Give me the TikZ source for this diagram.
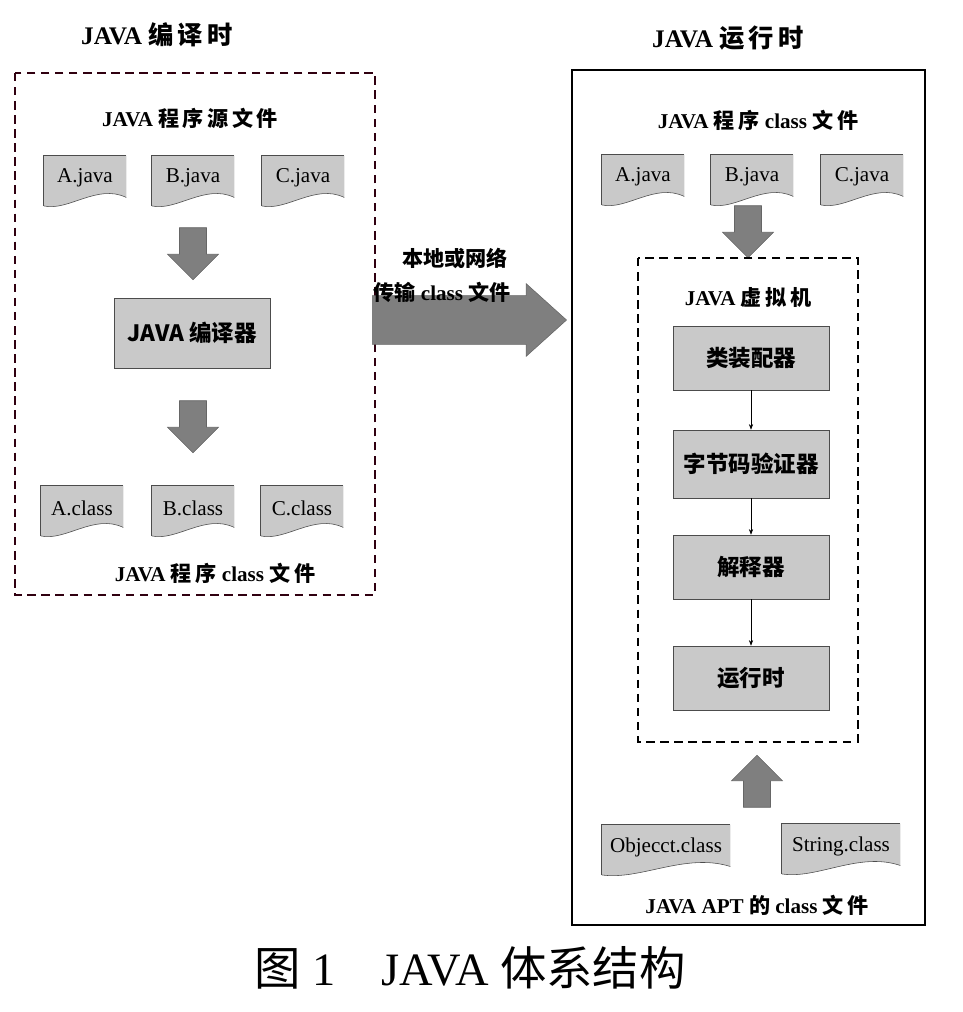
\documentclass[tikz,border=0pt]{standalone}
\usepackage{fontspec}
\setmainfont{Liberation Serif}
\newfontfamily\cjk{Noto Sans CJK SC}
\usetikzlibrary{shapes.arrows,arrows.meta,backgrounds,calc,positioning}

\definecolor{boxgray}{HTML}{C9C9C9}
\definecolor{arrgray}{HTML}{7F7F7F}

\tikzset{
  doc/.style={minimum height=1.1cm, inner sep=0pt, font=\fontsize{15}{15}\selectfont},
  stage/.style={draw=black!70, fill=boxgray, minimum width=3.9cm, inner sep=0pt, font=\cjk\bfseries\fontsize{16}{16}\selectfont},
  label/.style={font=\bfseries\fontsize{15}{15}\selectfont},
  title/.style={font=\bfseries\fontsize{18}{18}\selectfont},
  downarr/.style={single arrow, draw=black!60, fill=arrgray, rotate=-90, minimum height=1.3cm, inner xsep=0pt, inner ysep=0.33cm, single arrow head extend=0.3cm},
  uparr/.style={downarr, rotate=180},
  box dash/.style={line width=1.6pt, dash pattern=on 6pt off 4pt},
}

% wavy document body behind a node
\newcommand\docwave[1]{%
  \fill[boxgray] (#1.north west) -- (#1.north east) -- ([yshift=2pt]#1.south east)
    .. controls ($(#1.south east)!0.35!(#1.south west)+(0,12pt)$) and ($(#1.south east)!0.7!(#1.south west)+(0,-8pt)$) .. ([yshift=-4pt]#1.south west) -- cycle;
  \draw[black!70] ([yshift=-4pt]#1.south west) -- (#1.north west) -- (#1.north east);
  \draw[black!70] ([yshift=2pt]#1.south east)
    .. controls ($(#1.south east)!0.35!(#1.south west)+(0,12pt)$) and ($(#1.south east)!0.7!(#1.south west)+(0,-8pt)$) .. ([yshift=-4pt]#1.south west);
}

\begin{document}
\begin{tikzpicture}[x=0.025cm, y=-0.025cm]
  \useasboundingbox (0,0) rectangle (962,1012);

  % compile time
  \node[title] (ctitle) at (157,35) {JAVA {\cjk 编\,译\,时}};
  \draw[box dash, black!75!purple] (15,73) rectangle (375,595);
  \node[label] (srclbl) at (190,118) {JAVA {\cjk 程\,序\,源\,文\,件}};
  \node[doc, minimum width=2.05cm] (aj) at (85,178) {A.java};
  \node[doc, minimum width=2.05cm] (bj) at (193,178) {B.java};
  \node[doc, minimum width=2.05cm] (cj) at (303,178) {C.java};
  \node[downarr] (d1) at (193,247) {};
  \node[stage, minimum height=1.75cm] (jc) at (192,333) {JAVA 编译器};
  \node[downarr] (d2) at (193,420) {};
  \node[doc, minimum width=2.05cm] (ac) at (82,508) {A.class};
  \node[doc, minimum width=2.05cm] (bc) at (193,508) {B.class};
  \node[doc, minimum width=2.05cm] (cc) at (302,508) {C.class};
  \node[label] (clslbl) at (215,573) {JAVA {\cjk 程\,序} class {\cjk 文\,件}};

  % transfer
  \node[single arrow, draw=black!60, fill=arrgray, minimum height=4.85cm, inner xsep=0pt, inner ysep=0.6cm,
        single arrow head extend=0.3cm, single arrow tip angle=84] (tr) at (456,320) {};
  \node[label] (trl1) at (455,258) {\cjk 本地或网络};
  \node[label] (trl2) at (442,292) {{\cjk 传输} class {\cjk 文件}};

  % run time
  \node[title] (rtitle) at (728,38) {JAVA {\cjk 运\,行\,时}};
  \draw[very thick] (572,70) rectangle (925,925);
  \node[label] (rclbl) at (758,120) {JAVA {\cjk 程\,序} class {\cjk 文\,件}};
  \node[doc, minimum width=2.05cm] (raj) at (643,177) {A.java};
  \node[doc, minimum width=2.05cm] (rbj) at (752,177) {B.java};
  \node[doc, minimum width=2.05cm] (rcj) at (862,177) {C.java};
  \node[downarr] (d3) at (748,225) {};
  \draw[box dash] (638,258) rectangle (858,742);
  \node[label] (vmlbl) at (748,297) {JAVA {\cjk 虚\,拟\,机}};
  \node[stage, minimum height=1.6cm] (cl) at (751,358) {类装配器};
  \node[stage, minimum height=1.7cm] (bv) at (751,464) {字节码验证器};
  \node[stage, minimum height=1.6cm] (ip) at (751,567) {解释器};
  \node[stage, minimum height=1.6cm] (rt) at (751,678) {运行时};
  \draw[-{Stealth[length=4pt]}] (cl) -- (bv);
  \draw[-{Stealth[length=4pt]}] (bv) -- (ip);
  \draw[-{Stealth[length=4pt]}] (ip) -- (rt);
  \node[uparr] (u1) at (757,788) {};
  \node[doc, minimum width=3.2cm] (oc) at (666,847) {Objecct.class};
  \node[doc, minimum width=2.95cm] (sc) at (841,846) {String.class};
  \node[label] (aptlbl) at (757,905) {JAVA APT {\cjk 的} class {\cjk 文\,件}};

  \begin{scope}[on background layer]
    \foreach \d in {aj,bj,cj,ac,bc,cc,raj,rbj,rcj,oc,sc} {\docwave{\d}}
  \end{scope}

  % caption
  \node[font=\fontsize{33}{33}\selectfont] (cap) at (470,968) {{\cjk 图} 1\quad JAVA {\cjk 体系结构}};
\end{tikzpicture}
\end{document}
